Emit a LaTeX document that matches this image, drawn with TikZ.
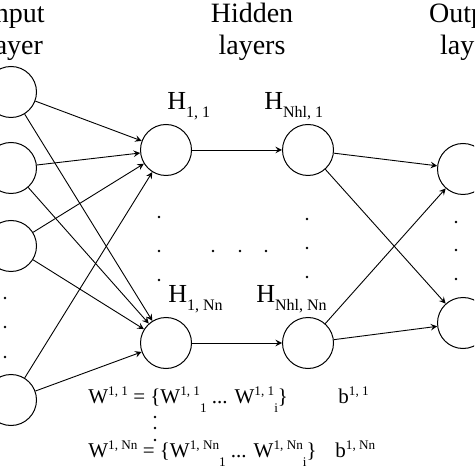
\documentclass[tikz,border=0pt]{standalone}
\usepackage{fontspec}
\setmainfont{Liberation Serif}
\newcommand{\hlab}[1]{H\raisebox{-4pt}{\fontsize{8}{8}\selectfont #1}}
\newcommand{\wsup}[1]{\raisebox{4pt}{\fontsize{6.6}{6.6}\selectfont #1}}
\newcommand{\wsub}[1]{\raisebox{-4.5pt}{\fontsize{6.6}{6.6}\selectfont #1}}
\tikzset{
  neuron/.style={draw,circle,minimum size=25.5pt,inner sep=0pt,line width=0.5pt},
  title/.style={align=center,font=\fontsize{14}{16}\selectfont,anchor=base,inner sep=0pt},
  hname/.style={font=\fontsize{13}{13}\selectfont,anchor=base west,inner sep=0pt},
  wline/.style={font=\fontsize{10.5}{10.5}\selectfont,anchor=base west,inner sep=0pt},
  link/.style={-stealth,line width=0.45pt}
}
\begin{document}
\begin{tikzpicture}[x=0.5pt,y=-0.5pt]
\clip(0,0) rectangle (474,474);
%
\node[title] (tin) at (15,55) {Input\\layer};
\node[title] (thid) at (252,55) {Hidden\\layers};
\node[title] (tout) at (468,55) {Output\\layer};
%
\node[neuron] (in1) at (11,92) {};
\node[neuron] (in2) at (11,168) {};
\node[neuron] (in3) at (11,246) {};
\node[neuron] (in4) at (11,400) {};
\node[neuron] (h11) at (166,150) {};
\node[neuron] (h1n) at (166,343) {};
\node[neuron] (hn1) at (308,150) {};
\node[neuron] (hnn) at (308,343) {};
\node[neuron] (out1) at (463,169) {};
\node[neuron] (out2) at (463,323) {};
%
\node[hname] (lh11) at (167,110) {\hlab{1, 1}};
\node[hname] (lhn1) at (264,110) {\hlab{Nhl, 1}};
\node[hname] (lh1n) at (168,302) {\hlab{1, Nn}};
\node[hname] (lhnn) at (256,302) {\hlab{Nhl, Nn}};
%
\foreach \i in {in1,in2,in3,in4}{
  \draw[link] (\i) -- (h11);
  \draw[link] (\i) -- (h1n);
}
\draw[link] (h11) -- (hn1);
\draw[link] (h1n) -- (hnn);
\foreach \i in {hn1,hnn}{
  \draw[link] (\i) -- (out1);
  \draw[link] (\i) -- (out2);
}
%
\foreach \y in {298,327,357} \fill (5,\y) circle (1.3);
\foreach \y in {217,251,280} \fill (159,\y) circle (1.3);
\foreach \y in {219,248,277} \fill (307,\y) circle (1.3);
\foreach \x in {213,240,266} \fill (\x,251) circle (1.3);
\foreach \y in {222,250,279} \fill (456,\y) circle (1.3);
\foreach \y in {417,428,440} \fill (155,\y) circle (1.3);
%
\node[wline] (w1) at (88,403) {W\wsup{1, 1} = \{W\wsup{1, 1}\wsub{1} ... W\wsup{1, 1}\wsub{i}\}};
\node[wline] (b1) at (338,403) {b\wsup{1, 1}};
\node[wline] (wn) at (88,457) {W\wsup{1, Nn} = \{W\wsup{1, Nn}\wsub{1} ... W\wsup{1, Nn}\wsub{i}\}};
\node[wline] (bn) at (335,457) {b\wsup{1, Nn}};
\end{tikzpicture}
\end{document}
